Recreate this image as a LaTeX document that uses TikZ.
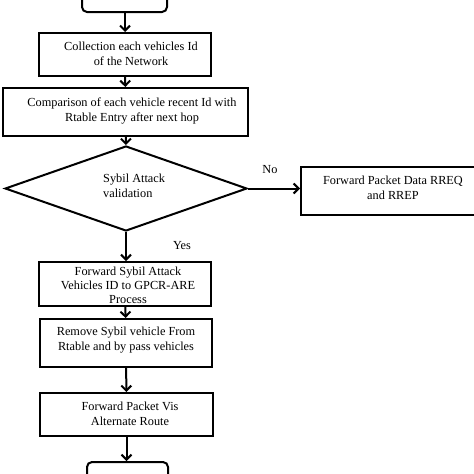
\documentclass[tikz,border=0pt]{standalone}
\usepackage{fontspec}
\setmainfont{Liberation Serif}
\usetikzlibrary{arrows.meta,shapes.geometric}
\begin{document}
\begin{tikzpicture}[x=1pt,y=-1pt,
  every node/.style={font=\fontsize{12.3}{14.8}\selectfont, inner sep=0pt},
  procbox/.style={draw, line width=2pt, rectangle},
  termbox/.style={draw, line width=2pt, rectangle, rounded corners=5pt},
  txt/.style={align=center},
  conn/.style={line width=2pt, -{Straight Barb[length=5pt,width=10pt,line width=2pt]}}]
\useasboundingbox (0,0) rectangle (474,474);
\clip (0,0) rectangle (474,474);
% shapes
\node[termbox, minimum width=85pt, minimum height=40pt] (start) at (124.5,-8) {};
\node[procbox, minimum width=172pt, minimum height=43pt] (b1) at (125,54.5) {};
\node[procbox, minimum width=245pt, minimum height=48pt] (b2) at (125.5,112) {};
\node[draw, line width=2pt, diamond, minimum width=242pt, minimum height=85pt, inner sep=0pt] (d) at (126,188.5) {};
\node[procbox, minimum width=174pt, minimum height=48pt] (b3) at (388,191) {};
\node[procbox, minimum width=172pt, minimum height=44pt] (b4) at (125,284) {};
\node[procbox, minimum width=172pt, minimum height=48pt] (b5) at (126,343) {};
\node[procbox, minimum width=173pt, minimum height=43pt] (b6) at (126.5,414.5) {};
\node[termbox, minimum width=81pt, minimum height=40pt] (end) at (127.5,482) {};
% texts
\node[txt] (t1) at (131,54) {Collection each vehicles Id\\of the Network};
\node[txt] (t2) at (132,111) {Comparison of each vehicle recent Id with\\Rtable Entry after next hop};
\node[align=left, anchor=west] (td) at (103,186) {Sybil Attack\\validation};
\node[txt] (t3) at (393,188) {Forward Packet Data RREQ\\and RREP};
\node[txt, font=\fontsize{12.3}{14}\selectfont] (t4) at (128,285) {Forward Sybil Attack\\Vehicles ID to GPCR-ARE\\Process};
\node[txt] (t5) at (126,340) {Remove Sybil vehicle From\\Rtable and by pass vehicles};
\node[txt] (t6) at (130,414) {Forward Packet Vis\\Alternate Route};
\node (tend) at (131,479) {End};
\node (no) at (270,170) {No};
\node (yes) at (182,246) {Yes};
% connectors
\draw[conn] (start.south -| b1.north) -- (b1.north);
\draw[conn] (b1) -- (b2);
\draw[conn] (b2) -- (d.north);
\draw[conn] (d.east) -- (b3.west |- d.east);
\draw[conn] (d.south) -- (b4.north -| d.south);
\draw[conn] (b4) -- (b5);
\draw[conn] (b5) -- (b6);
\draw[conn] (b6.south) -- (end.north -| b6.south);
\end{tikzpicture}
\end{document}
